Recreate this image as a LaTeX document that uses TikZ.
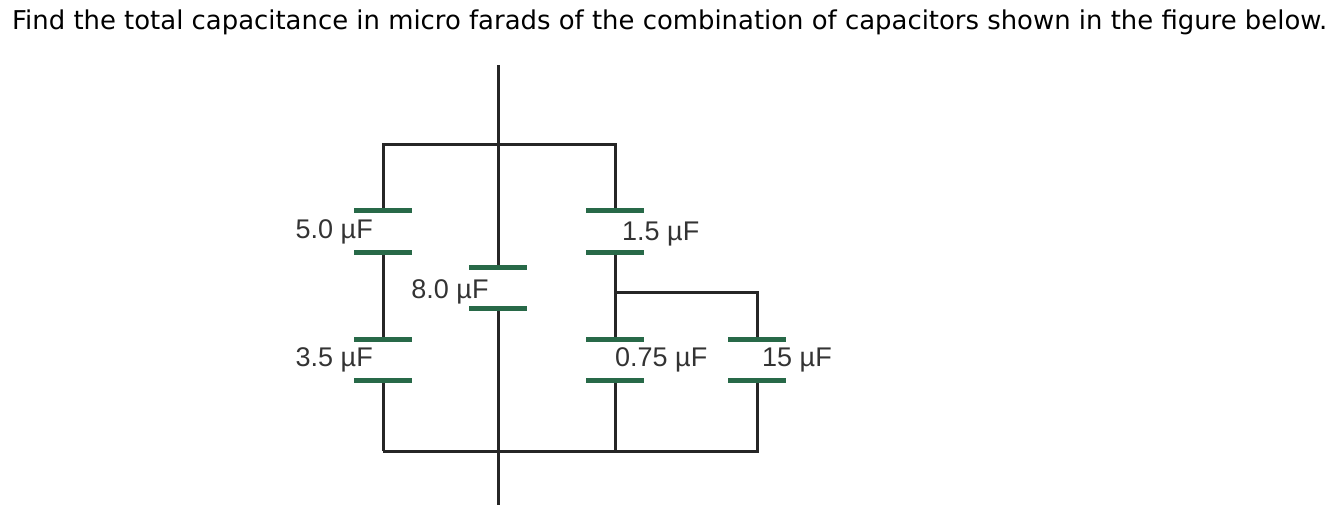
\documentclass[tikz,border=0pt]{standalone}
\usepackage{fontspec}
\setmainfont{DejaVu Sans}
\newfontfamily\lab{Liberation Sans}
\definecolor{plategreen}{RGB}{40,105,72}
\begin{document}
\begin{tikzpicture}[x=1pt,y=-1pt,
  wire/.style={line width=3pt,black!85},
  plate/.style={line width=5pt,draw=plategreen},
  lbl/.style={font=\lab\fontsize{27}{27}\selectfont,text=black!80,inner sep=0pt}]
\useasboundingbox (0,0) rectangle (1342,520);
\node[anchor=west,inner sep=0pt,font=\fontsize{25.9}{26}\selectfont] (title) at (12,22) {Find the total capacitance in micro farads of the combination of capacitors shown in the figure below.};
\coordinate (tl) at (383,144); \coordinate (tr) at (615,144);
\coordinate (bl) at (383,451); \coordinate (br) at (757,451); \coordinate (bm) at (615,451);
\coordinate (ct) at (498,65); \coordinate (cb) at (498,505);
\coordinate (j) at (615,292); \coordinate (jr) at (757,292);
\draw[wire] (bl) -- (tl) -- (tr) -- (bm);
\draw[wire] (bl) -- (br) -- (jr) -- (j);
\draw[wire] (ct) -- (cb);
\foreach \x/\a/\b in {383/210/252, 383/339/380, 498/267/308, 615/210/252, 615/339/380, 757/339/380}
  \fill[white] (\x-4,\a) rectangle (\x+4,\b);
\foreach \x/\a/\b in {383/210/252, 383/339/380, 498/267/308, 615/210/252, 615/339/380, 757/339/380}{
  \draw[plate] (\x-29,\a) -- (\x+29,\a);
  \draw[plate] (\x-29,\b) -- (\x+29,\b);}
\node[lbl,anchor=east] (c1) at (373,232) {5.0 µF};
\node[lbl] (c2) at (450,292) {8.0 µF};
\node[lbl,anchor=east] (c3) at (373,360) {3.5 µF};
\node[lbl,anchor=west] (c4) at (622,234) {1.5 µF};
\node[lbl,anchor=west] (c5) at (615,360) {0.75 µF};
\node[lbl,anchor=west] (c6) at (762,360) {15 µF};
\end{tikzpicture}
\end{document}
